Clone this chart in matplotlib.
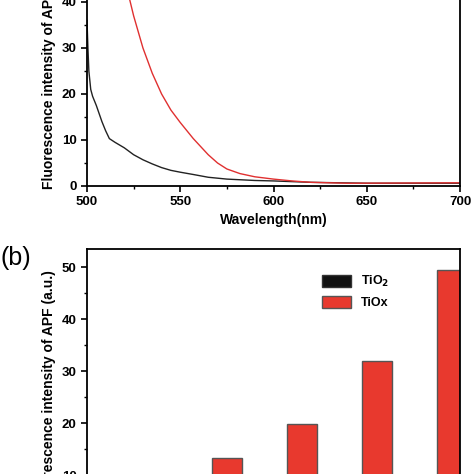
import matplotlib.pyplot as plt
from matplotlib.ticker import MultipleLocator

plt.rcParams['font.family'] = ['Liberation Sans', 'DejaVu Sans']
plt.rcParams['font.weight'] = 'bold'

# (a) emission spectra
wl_tio2 = [500, 500.5, 501, 502, 503, 505, 508, 510, 512, 515, 520, 525, 530, 535, 540, 545, 550, 557, 565, 575, 590, 600, 620, 650, 700]
int_tio2 = [36, 30, 25, 21, 19.5, 17.5, 14, 12, 10.3, 9.5, 8.3, 6.8, 5.7, 4.8, 4.0, 3.4, 3.0, 2.5, 1.9, 1.5, 1.2, 1.1, 0.8, 0.6, 0.6]
wl_tiox = [505, 510, 515, 520, 522, 525, 530, 535, 540, 545, 550, 557, 565, 570, 575, 582, 590, 600, 610, 620, 640, 670, 700]
int_tiox = [95, 75, 60, 47, 42, 37, 30, 24.5, 20, 16.5, 13.8, 10.3, 6.8, 5.0, 3.7, 2.7, 2.0, 1.5, 1.1, 0.8, 0.6, 0.65, 0.7]

# (b) bar chart
groups = [0, 1, 2, 3, 4]
tio2_vals = [3.0, 3.5, 4.0, 4.5, 5.0]
tiox_vals = [8.0, 13.2, 19.8, 32.0, 49.5]

fig = plt.figure(figsize=(4.74, 4.74), dpi=100)
H = 474.0

def pos(l, r, top, bot):
    return [l / 474, 1 - bot / H, (r - l) / 474, (bot - top) / H]

ax1 = fig.add_axes(pos(87, 460, -44, 186))
ax1.plot(wl_tio2, int_tio2, color='#222222', lw=1)
ax1.plot(wl_tiox, int_tiox, color='#e03030', lw=1)
ax1.set_xlim(500, 700)
ax1.set_ylim(0, 50)
ax1.xaxis.set_major_locator(MultipleLocator(50))
ax1.xaxis.set_minor_locator(MultipleLocator(25))
ax1.yaxis.set_major_locator(MultipleLocator(10))
ax1.yaxis.set_minor_locator(MultipleLocator(5))
ax1.set_xlabel('Wavelength(nm)', fontsize=10, fontweight='bold', labelpad=3)
ax1.set_ylabel('Fluorescence intensity of APF (a.u.)', fontsize=10, fontweight='bold')

ax2 = fig.add_axes(pos(87, 460, 249, 527))
ax2.bar([g - 0.4 for g in groups], tio2_vals, width=0.4, color='#111111', edgecolor='#333333', label='TiO$_2$')
ax2.bar([g + 0.0 for g in groups], tiox_vals, width=0.4, color='#e8392e', edgecolor='#555555', label='TiOx')
ax2.set_xlim(-0.867, 4.107)
ax2.set_ylim(0, 53.5)
ax2.yaxis.set_major_locator(MultipleLocator(10))
ax2.yaxis.set_minor_locator(MultipleLocator(5))
ax2.set_xticks([])
ax2.set_ylabel('Fluorescence intensity of APF (a.u.)', fontsize=10, fontweight='bold')
ax2.legend(loc='upper right', bbox_to_anchor=(0.84, 0.95), frameon=False, fontsize=9,
           handlelength=2.3, handleheight=1.2)
fig.text(0.0, 1 - 258 / H, '(b)', fontsize=18, fontweight='normal', va='center')

for ax in (ax1, ax2):
    for s in ax.spines.values():
        s.set_linewidth(1.3)
    ax.tick_params(labelsize=9.5, width=1.2, length=4)
    ax.tick_params(which='minor', width=1, length=2.5)

fig.savefig('out.png', dpi=100)
